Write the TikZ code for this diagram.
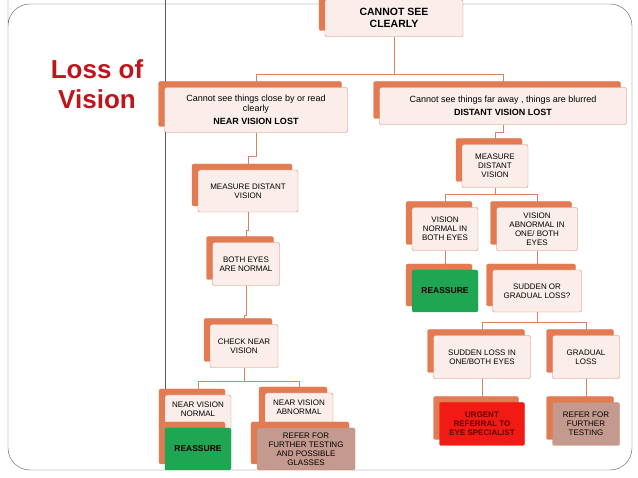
\documentclass[tikz,border=0pt]{standalone}
\usepackage{fontspec}
\setmainfont{Liberation Sans}
\usetikzlibrary{shadows}
\definecolor{boxfill}{HTML}{FBEEEA}
\definecolor{boxline}{HTML}{D9825F}
\definecolor{shade}{HTML}{E27A52}
\definecolor{okgreen}{HTML}{1FA653}
\definecolor{alarm}{HTML}{F21A14}
\definecolor{tan}{HTML}{C49A8E}
\definecolor{title}{HTML}{C0141B}
\tikzset{
  box/.style={draw=boxline, fill=boxfill, rounded corners=2pt, align=center,
    inner sep=1pt, font=\fontsize{8}{9}\selectfont,
    copy shadow={shadow xshift=-6pt, shadow yshift=6pt, fill=shade, draw=shade}},
  conn/.style={draw=boxline, line width=0.8pt}
}
\begin{document}
\begin{tikzpicture}[x=1pt,y=-1pt]
\useasboundingbox (0,0) rectangle (638,478);
% frame
\draw[gray!70!black, rounded corners=22pt] (8,16) -- (8,470) -- (632,470) -- (632,4) -- (8,4) -- cycle;
\draw[gray!70!black] (165,0) -- (165,470);
\node[text=title, font=\fontsize{26}{30}\selectfont\bfseries, align=center] (ttl) at (97,84) {Loss of\\Vision};
% boxes
\node[box, minimum width=138, minimum height=37, font=\fontsize{10.5}{12}\selectfont\bfseries] (top) at (394,18) {CANNOT SEE\\CLEARLY};
\node[box, minimum width=183, minimum height=45, font=\fontsize{9}{10}\selectfont] (near) at (256,110) {Cannot see things close by or read\\clearly\\[3pt]\textbf{NEAR VISION LOST}};
\node[box, minimum width=247, minimum height=37, font=\fontsize{9}{10}\selectfont] (dist) at (503,106) {Cannot see things far away , things are blurred\\[3pt]\textbf{DISTANT VISION LOST}};
\node[box, minimum width=66, minimum height=43] (mdr) at (495,166) {MEASURE\\DISTANT\\VISION};
\node[box, minimum width=100, minimum height=42] (mdl) at (248,191) {MEASURE DISTANT\\VISION};
\node[box, minimum width=67, minimum height=43] (bothn) at (246,264) {BOTH EYES\\ARE NORMAL};
\node[box, minimum width=68, minimum height=43] (chk) at (244,346) {CHECK NEAR\\VISION};
\node[box, minimum width=66, minimum height=40, text depth=12pt] (nvn) at (198,415) {NEAR VISION\\NORMAL};
\node[box, minimum width=68, minimum height=40, text depth=12pt] (nva) at (299,413) {NEAR VISION\\ABNORMAL};
\node[box, fill=okgreen, draw=okgreen, minimum width=66, minimum height=42, font=\fontsize{8.5}{10}\selectfont\bfseries] (rsl) at (198,449) {REASSURE};
\node[box, fill=tan, draw=boxline, minimum width=98, minimum height=42] (rfg) at (306,449) {REFER FOR\\FURTHER TESTING\\AND POSSIBLE\\GLASSES};
\node[box, minimum width=66, minimum height=43] (vnb) at (445,229) {VISION\\NORMAL IN\\BOTH EYES};
\node[box, minimum width=81, minimum height=43] (vab) at (537,229) {VISION\\ABNORMAL IN\\ONE/ BOTH\\EYES};
\node[box, fill=okgreen, draw=okgreen, minimum width=66, minimum height=42, font=\fontsize{8.5}{10}\selectfont\bfseries] (rsr) at (445,291) {REASSURE};
\node[box, minimum width=89, minimum height=42] (sog) at (537,291) {SUDDEN OR\\GRADUAL LOSS?};
\node[box, minimum width=97, minimum height=43] (sud) at (482,357) {SUDDEN LOSS IN\\ONE/BOTH EYES};
\node[box, minimum width=67, minimum height=43] (grd) at (586,357) {GRADUAL\\LOSS};
\node[box, fill=alarm, draw=alarm, minimum width=85, minimum height=43, font=\fontsize{8}{9}\selectfont\bfseries, text=red!40!black] (urg) at (482,424) {URGENT\\REFERRAL TO\\EYE SPECIALIST};
\node[box, fill=tan, minimum width=67, minimum height=43] (rff) at (586,424) {REFER FOR\\FURTHER\\TESTING};
% connectors
\draw[conn] (top.south) -- ++(0,38) -| (near.north);
\draw[conn] (top.south) -- ++(0,38) -| (dist.north);
\draw[conn] (near.south) -- ++(0,24) -| (mdl.north);
\draw[conn] (dist.south) -- ++(0,8) -| (mdr.north);
\draw[conn] (mdl.south) -- ++(0,18) -| (bothn.north);
\draw[conn] (bothn.south) -- ++(0,30) -| (chk.north);
\draw[conn] (chk.south) -- ++(0,14) -| (nvn.north);
\draw[conn] (chk.south) -- ++(0,14) -| (nva.north);
\draw[conn] (mdr.south) -- ++(0,7) -| (vnb.north);
\draw[conn] (mdr.south) -- ++(0,7) -| (vab.north);
\draw[conn] (vnb.south) -- (rsr.north -| vnb.south);
\draw[conn] (vab.south) -- (sog.north -| vab.south);
\draw[conn] (sog.south) -- ++(0,10) -| (sud.north);
\draw[conn] (sog.south) -- ++(0,10) -| (grd.north);
\draw[conn] (sud.south) -- (urg.north);
\draw[conn] (grd.south) -- (rff.north);
\end{tikzpicture}
\end{document}
